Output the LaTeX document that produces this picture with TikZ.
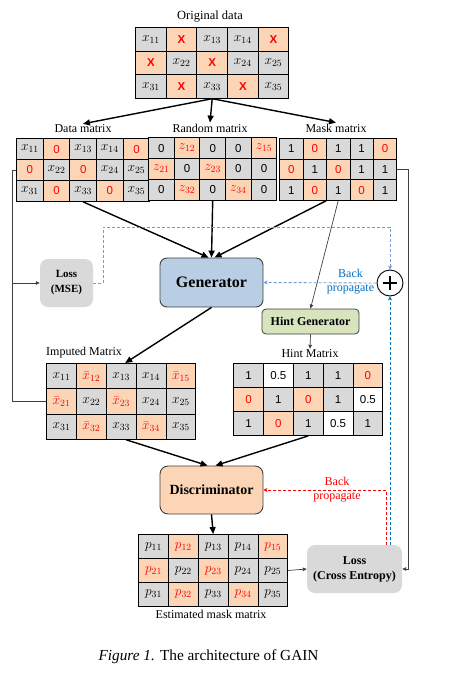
\RequirePackage{fix-cm}
\documentclass[tikz,border=0pt]{standalone}
\usepackage{fontspec}
\setmainfont{Liberation Serif}
\newfontfamily\arialf{Liberation Sans}
\usetikzlibrary{arrows.meta,matrix,calc}
\definecolor{cgray}{HTML}{D9D9D9}
\definecolor{cpeach}{HTML}{FBD5B5}
\definecolor{cblue}{HTML}{B9CDE5}
\definecolor{cgreen}{HTML}{D7E4BD}
\definecolor{tred}{HTML}{FF0000}
\definecolor{tblue}{HTML}{0070C0}
\definecolor{dblue}{HTML}{6F9AD3}
\definecolor{bordergray}{HTML}{404040}
\newcommand\dg[1]{{\arialf\fontsize{11.5}{13}\selectfont #1}}
\newcommand\xmark{{\arialf\bfseries\fontsize{11.5}{13}\selectfont X}}
\newcommand\mx[1]{{\fontsize{13.5}{16}\selectfont$#1$}}
\tikzset{
  gridmat/.style={matrix of nodes, column sep=-0.8pt, row sep=-0.8pt, inner sep=0pt,
    nodes={draw=black, line width=0.8pt, fill=cgray, inner sep=0pt, anchor=center}},
  pk/.style={fill=cpeach, text=tred},
  wh/.style={fill=white},
  ttl/.style={font=\fontsize{12}{14}\selectfont, inner sep=1pt},
  big/.style={line width=1.4pt, -{Triangle[length=7pt,width=6pt]}},
  wire/.style={line width=0.7pt, draw=black!75},
  wirearrow/.style={wire, -{Triangle[length=4pt,width=3.5pt]}},
  bdash/.style={line width=0.9pt, draw=dblue, dash pattern=on 3pt off 2pt, -{Stealth[length=4pt,width=4pt]}},
  bdashb/.style={line width=0.9pt, draw=tblue, dash pattern=on 3pt off 2pt, -{Stealth[length=4pt,width=4pt]}},
  rdash/.style={line width=0.9pt, draw=tred, dash pattern=on 3pt off 2pt, -{Stealth[length=4pt,width=4pt]}},
  genbox/.style={draw=bordergray, line width=0.9pt, rounded corners=7pt, fill=cblue,
    minimum width=103pt, minimum height=49pt, font=\bfseries\fontsize{16}{18}\selectfont},
  discbox/.style={draw=bordergray, line width=0.9pt, rounded corners=8pt, fill=cpeach,
    minimum width=103pt, minimum height=48pt, font=\bfseries\fontsize{14}{16}\selectfont},
  hintbox/.style={draw=bordergray, line width=0.8pt, rounded corners=4pt, fill=cgreen,
    minimum width=97pt, minimum height=25pt, font=\bfseries\fontsize{12}{14}\selectfont},
  lossbox/.style={draw=none, rounded corners=8pt, fill=cgray, align=center},
  blab/.style={align=center, font=\fontsize{12}{14}\selectfont, inner sep=0pt},
}
\begin{document}
\begin{tikzpicture}[x=1pt,y=-1pt]
\useasboundingbox[fill=white] (0,0) rectangle (449,681);

% ---------- Original data ----------
\node[ttl, font=\fontsize{12.5}{14}\selectfont] (otitle) at (210,17) {Original data};
\matrix (om) [gridmat, anchor=north west, nodes={minimum width=30.64pt, minimum height=23.5pt}] at (135,27) {
\mx{x_{11}} & |[pk]| \xmark & \mx{x_{13}} & \mx{x_{14}} & |[pk]| \xmark \\
|[pk]| \xmark & \mx{x_{22}} & |[pk]| \xmark & \mx{x_{24}} & \mx{x_{25}} \\
\mx{x_{31}} & |[pk]| \xmark & \mx{x_{33}} & |[pk]| \xmark & \mx{x_{35}} \\
};

% ---------- Data matrix ----------
\node[ttl] (dtitle) at (83,129) {Data matrix};
\matrix (dm) [gridmat, anchor=north west, nodes={minimum width=26.64pt, minimum height=20.9pt}] at (16,138) {
\mx{x_{11}} & |[pk]| \dg{0} & \mx{x_{13}} & \mx{x_{14}} & |[pk]| \dg{0} \\
|[pk]| \dg{0} & \mx{x_{22}} & |[pk]| \dg{0} & \mx{x_{24}} & \mx{x_{25}} \\
\mx{x_{31}} & |[pk]| \dg{0} & \mx{x_{33}} & |[pk]| \dg{0} & \mx{x_{35}} \\
};

% ---------- Random matrix ----------
\node[ttl] (rtitle) at (210,128) {Random matrix};
\matrix (rm) [gridmat, anchor=north west, nodes={minimum width=25.64pt, minimum height=20.9pt}] at (148,137) {
\dg{0} & |[pk]| \mx{z_{12}} & \dg{0} & \dg{0} & |[pk]| \mx{z_{15}} \\
|[pk]| \mx{z_{21}} & \dg{0} & |[pk]| \mx{z_{23}} & \dg{0} & \dg{0} \\
\dg{0} & |[pk]| \mx{z_{32}} & \dg{0} & |[pk]| \mx{z_{34}} & \dg{0} \\
};

% ---------- Mask matrix ----------
\node[ttl] (mtitle) at (336,128) {Mask matrix};
\matrix (mm) [gridmat, anchor=north west, nodes={minimum width=23.44pt, minimum height=20.6pt}] at (279,138) {
\dg{1} & |[pk]| \dg{0} & \dg{1} & \dg{1} & |[pk]| \dg{0} \\
|[pk]| \dg{0} & \dg{1} & |[pk]| \dg{0} & \dg{1} & \dg{1} \\
\dg{1} & |[pk]| \dg{0} & \dg{1} & |[pk]| \dg{0} & \dg{1} \\
};

% ---------- Boxes ----------
\node[genbox] (gen) at (211.5,282.5) {Generator};
\node[lossbox, minimum width=53pt, minimum height=48pt, font=\bfseries\fontsize{11}{15}\selectfont] (lmse) at (66.5,283) {Loss\\(MSE)};
\node[hintbox] (hgen) at (310.5,321.5) {Hint Generator};
\node[circle, draw=black, line width=0.9pt, minimum size=26pt, inner sep=0pt, fill=white] (plus) at (390,283) {};
\draw[line width=1.4pt] ($(plus.center)+(-7,0)$) -- ($(plus.center)+(7,0)$);
\draw[line width=1.4pt] ($(plus.center)+(0,-7)$) -- ($(plus.center)+(0,7)$);
\node[discbox] (disc) at (211.5,490) {Discriminator};
\node[lossbox, minimum width=95pt, minimum height=48pt, font=\bfseries\fontsize{12}{15}\selectfont] (lce) at (354.5,569) {Loss\\(Cross Entropy)};

% ---------- Imputed Matrix ----------
\node[ttl, anchor=west] (ititle) at (45,353) {Imputed Matrix};
\matrix (im) [gridmat, anchor=north west, nodes={minimum width=29.84pt, minimum height=25.2pt}] at (46,363) {
\mx{x_{11}} & |[pk]| \mx{\bar{x}_{12}} & \mx{x_{13}} & \mx{x_{14}} & |[pk]| \mx{\bar{x}_{15}} \\
|[pk]| \mx{\bar{x}_{21}} & \mx{x_{22}} & |[pk]| \mx{\bar{x}_{23}} & \mx{x_{24}} & \mx{x_{25}} \\
\mx{x_{31}} & |[pk]| \mx{\bar{x}_{32}} & \mx{x_{33}} & |[pk]| \mx{\bar{x}_{34}} & \mx{x_{35}} \\
};

% ---------- Hint Matrix ----------
\node[ttl] (htitle) at (310,354) {Hint Matrix};
\matrix (hm) [gridmat, anchor=north west, nodes={minimum width=29.84pt, minimum height=23.9pt}] at (233,363) {
\dg{1} & |[wh]| \dg{0.5} & \dg{1} & \dg{1} & |[pk]| \dg{0} \\
|[pk]| \dg{0} & \dg{1} & |[pk]| \dg{0} & \dg{1} & |[wh]| \dg{0.5} \\
\dg{1} & |[pk]| \dg{0} & \dg{1} & |[wh]| \dg{0.5} & \dg{1} \\
};

% ---------- Estimated mask matrix ----------
\matrix (em) [gridmat, anchor=north west, nodes={minimum width=29.84pt, minimum height=23.9pt}] at (138,534) {
\mx{p_{11}} & |[pk]| \mx{p_{12}} & \mx{p_{13}} & \mx{p_{14}} & |[pk]| \mx{p_{15}} \\
|[pk]| \mx{p_{21}} & \mx{p_{22}} & |[pk]| \mx{p_{23}} & \mx{p_{24}} & \mx{p_{25}} \\
\mx{p_{31}} & |[pk]| \mx{p_{32}} & \mx{p_{33}} & |[pk]| \mx{p_{34}} & \mx{p_{35}} \\
};
\node[ttl] (etitle) at (211,614) {Estimated mask matrix};

% ---------- Labels ----------
\node[blab, text=tblue] (bpb) at (350.5,282) {Back\\propagate};
\node[blab, text=tred] (bpr) at (337,489.5) {Back\\propagate};

% ---------- Thick arrows ----------
\draw[big] (om.south) -- (dtitle.north);
\draw[big] (om.south) -- (rtitle.north);
\draw[big] (om.south) -- (mtitle.north);
\draw[big] (dm.south) -- ($(gen.north)+(-3,0)$);
\draw[big] (rm.south) -- (gen.north);
\draw[big] (mm-3-3.south west) -- ($(gen.north)+(3,0)$);
\draw[big] (gen.south) -- ($(im.north)+(4,0)$);
\draw[big] ($(im.south)+(5,0)$) -- ($(disc.north)+(-4,0)$);
\draw[big] (hm.south) -- ($(disc.north)+(4,0)$);
\draw[big] (disc.south) -- (em.north);

% ---------- Thin arrows ----------
\draw[wirearrow] (mm-3-3.south) -- (hgen.north);
\draw[wirearrow] (hgen.south) -- (htitle.north);
\coordinate (lx) at (12,0);
\draw[wire] (dm-2-1.west) -| (lx |- im-2-1.west) -- (im-2-1.west);
\draw[wirearrow] (lx |- lmse.west) -- (lmse.west);
\coordinate (rx) at (408,0);
\draw[wirearrow] (mm-2-5.east) -| (rx |- lce.east) -- (lce.east);
\draw[wirearrow] (em-2-5.east) -- (lce.west);

% ---------- Back propagation ----------
\coordinate (bx) at (103,227);
\draw[bdash] (lmse.east) -| (bx) -| (plus.north);
\draw[bdash] (plus.west) -- (gen.east);
\draw[bdashb] (plus.south |- lce.north) -- (plus.south);
\coordinate (rdx) at (386.5,0);
\draw[rdash] (rdx |- lce.north) |- (disc.east);

% ---------- Caption ----------
\node[font=\fontsize{15.3}{18}\selectfont] (cap) at (208.5,657) {\textit{Figure 1.} The architecture of GAIN};
\end{tikzpicture}
\end{document}
